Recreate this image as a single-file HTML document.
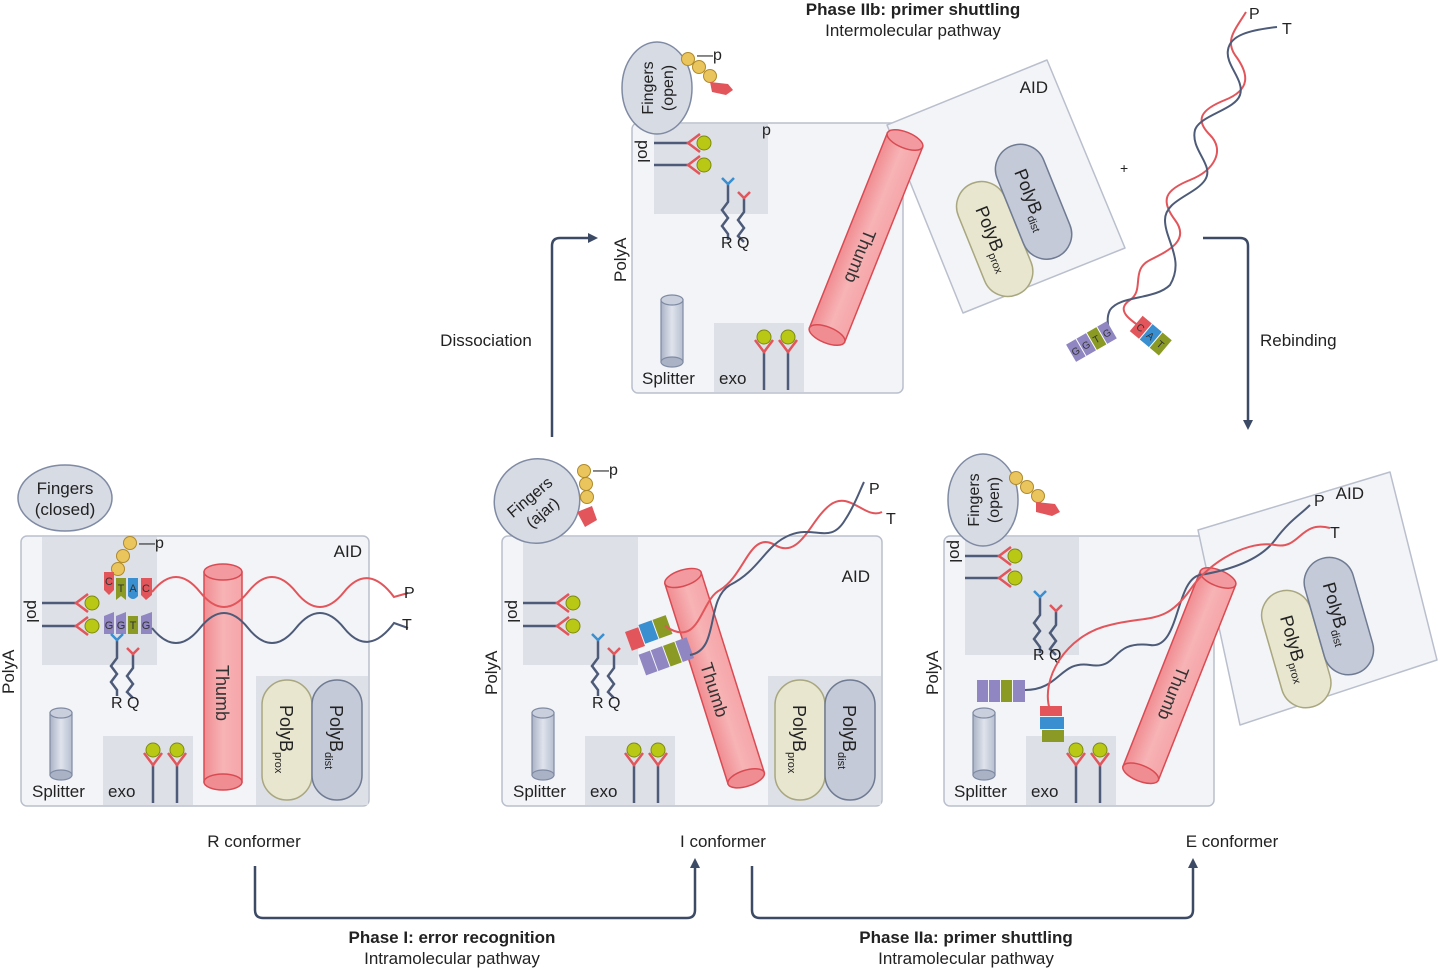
<!DOCTYPE html>
<html><head><meta charset="utf-8"><style>
body{margin:0;background:#fff}
svg{display:block;font-family:"Liberation Sans",sans-serif}
</style></head><body>
<svg width="1438" height="968" viewBox="0 0 1438 968" xmlns="http://www.w3.org/2000/svg">
<defs>
<linearGradient id="thg" x1="0" x2="1"><stop offset="0" stop-color="#f08d92"/><stop offset="0.5" stop-color="#f7b3b5"/><stop offset="1" stop-color="#f6a5a8"/></linearGradient>
<linearGradient id="spg" x1="0" x2="1"><stop offset="0" stop-color="#aab3c6"/><stop offset="0.5" stop-color="#dfe3ec"/><stop offset="1" stop-color="#b6bfd0"/></linearGradient>
<g id="thumb">
<rect x="-19" y="0" width="38" height="210" fill="url(#thg)" stroke="#d94b53" stroke-width="1.5"/>
<ellipse cx="0" cy="210" rx="19" ry="8" fill="#f08d92" stroke="#d94b53" stroke-width="1.5"/>
<ellipse cx="0" cy="0" rx="19" ry="8" fill="#f29aa0" stroke="#d94b53" stroke-width="1.5"/>
</g>
<g id="split">
<rect x="0" y="0" width="22" height="62" fill="url(#spg)" stroke="#7f8aa3" stroke-width="1.2"/>
<ellipse cx="11" cy="62" rx="11" ry="5" fill="#aab3c6" stroke="#7f8aa3" stroke-width="1.2"/>
<ellipse cx="11" cy="0" rx="11" ry="5" fill="#c9cfdc" stroke="#7f8aa3" stroke-width="1.2"/>
</g>
<g id="pol">
<line x1="0" y1="0" x2="34" y2="0" stroke="#4d5b78" stroke-width="2.5"/>
<path d="M46 -9 L34 0 L46 9" fill="none" stroke="#e2555b" stroke-width="2.5"/>
<circle cx="50" cy="0" r="7" fill="#b8c814" stroke="#7d8a10"/>
</g>
<g id="exo">
<line x1="0" y1="0" x2="0" y2="-38" stroke="#4d5b78" stroke-width="2.5"/>
<path d="M-9 -50 L0 -38 L9 -50" fill="none" stroke="#e2555b" stroke-width="2.5"/>
<circle cx="0" cy="-53" r="7" fill="#b8c814" stroke="#7d8a10"/>
</g>
<g id="rq">
<path d="M0 0 l0 18 l-6 8 l6 8 l-6 8 l6 8 l0 6" fill="none" stroke="#4d5b78" stroke-width="2.5"/>
<path d="M-6 -6 L0 0 L6 -6" fill="none" stroke="#3a8fd0" stroke-width="2.5"/>
<path d="M16 14 l0 14 l-6 8 l6 8 l-6 8 l6 6" fill="none" stroke="#4d5b78" stroke-width="2.5"/>
<path d="M10 8 L16 14 L22 8" fill="none" stroke="#e2555b" stroke-width="2.5"/>
</g>
<g id="gold">
<circle cx="0" cy="0" r="6.5" fill="#eac45c" stroke="#b08a2a"/>
</g>
</defs>

<text x="913" y="15" font-size="17" font-weight="bold" text-anchor="middle" fill="#222">Phase IIb: primer shuttling</text>
<text x="913" y="36" font-size="17" text-anchor="middle" fill="#222">Intermolecular pathway</text>

<!-- LEFT -->
<rect x="21" y="536" width="348" height="270" rx="6" fill="#f3f4f8" stroke="#b9bfcc" stroke-width="1.5"/>
<rect x="42" y="537" width="115" height="128" fill="#dde0e7"/>
<rect x="103" y="736" width="90" height="69" fill="#dde0e7"/>
<rect x="256" y="676" width="112" height="129" fill="#dde0e7"/>
<ellipse cx="65" cy="498" rx="47" ry="33" fill="#d7dbe4" stroke="#7f8aa3" stroke-width="1.5"/>
<text x="65" y="494" font-size="17" text-anchor="middle" fill="#222">Fingers</text>
<text x="65" y="515" font-size="17" text-anchor="middle" fill="#222">(closed)</text>
<text x="362" y="557" font-size="17" text-anchor="end" fill="#222">AID</text>
<text transform="translate(14,694) rotate(-90)" font-size="17" fill="#222">PolyA</text>
<text transform="translate(27,600) rotate(90)" font-size="17" fill="#222">pol</text>
<use href="#pol" x="42" y="603"/><use href="#pol" x="42" y="626"/>
<use href="#gold" x="118" y="569"/><use href="#gold" x="123" y="556"/><use href="#gold" x="130" y="543"/>
<text x="139" y="548" font-size="16" fill="#222">—p</text>
<g font-size="11" text-anchor="middle" fill="#333">
<polygon points="104,572 114,572 114,590 109,595 104,590" fill="#e2555b"/><text x="109" y="585">C</text>
<polygon points="116,578 126,578 126,600 121,596 116,600" fill="#8a9a24"/><text x="121" y="592">T</text>
<path d="M128 578 h10 v18 q-5 6 -10 0z" fill="#3a8fd0"/><text x="133" y="592">A</text>
<polygon points="141,578 152,578 152,595 146,600 141,595" fill="#e2555b"/><text x="146" y="592">C</text>
<polygon points="104,616 114,612 114,634 104,634" fill="#8f86c2"/><text x="109" y="629">G</text>
<polygon points="116,616 126,612 126,634 116,634" fill="#8f86c2"/><text x="121" y="629">G</text>
<polygon points="128,616 138,616 138,634 128,634" fill="#8a9a24"/><text x="133" y="629">T</text>
<polygon points="141,616 152,612 152,634 141,634" fill="#8f86c2"/><text x="146" y="629">G</text>
</g>
<use href="#rq" x="117" y="640"/>
<text x="111" y="708" font-size="16" fill="#222">R Q</text>
<use href="#thumb" transform="translate(223,572)"/>
<text transform="translate(216,665) rotate(90)" font-size="18" fill="#333">Thumb</text>
<path d="M152 592 q24 -30 48 0 t48 0 t48 0 t48 0 t50 5 l14 -4" fill="none" stroke="#e2555b" stroke-width="2"/>
<path d="M152 628 q24 30 48 0 t48 0 t48 0 t48 0 t50 -5 l14 5" fill="none" stroke="#4d5b78" stroke-width="2"/>
<text x="404" y="598" font-size="16" fill="#222">P</text>
<text x="402" y="630" font-size="16" fill="#222">T</text>
<use href="#split" x="50" y="713"/>
<text x="32" y="797" font-size="17" fill="#222">Splitter</text>
<text x="108" y="797" font-size="17" fill="#222">exo</text>
<use href="#exo" x="153" y="803"/><use href="#exo" x="177" y="803"/>
<rect x="262" y="680" width="50" height="120" rx="25" fill="#e8e6cf" stroke="#a9a77f" stroke-width="1.5"/>
<rect x="312" y="680" width="50" height="120" rx="25" fill="#c4cad8" stroke="#6f7b92" stroke-width="1.5"/>
<text transform="translate(280,705) rotate(90)" font-size="18" fill="#222">PolyB<tspan font-size="11" dy="5">prox</tspan></text>
<text transform="translate(330,705) rotate(90)" font-size="18" fill="#222">PolyB<tspan font-size="11" dy="5">dist</tspan></text>
<text x="254" y="847" font-size="17" text-anchor="middle" fill="#222">R conformer</text>

<!-- MIDDLE -->
<rect x="502" y="536" width="380" height="270" rx="6" fill="#f3f4f8" stroke="#b9bfcc" stroke-width="1.5"/>
<rect x="523" y="537" width="115" height="128" fill="#dde0e7"/>
<rect x="585" y="736" width="90" height="69" fill="#dde0e7"/>
<rect x="768" y="676" width="113" height="129" fill="#dde0e7"/>
<ellipse cx="537" cy="501" rx="43" ry="42" transform="rotate(-30 537 501)" fill="#d7dbe4" stroke="#7f8aa3" stroke-width="1.5"/>
<text transform="translate(537,506) rotate(-40)" font-size="16" text-anchor="middle" fill="#222"><tspan x="0" y="-6">Fingers</tspan><tspan x="0" y="14">(ajar)</tspan></text>
<use href="#gold" x="584" y="471"/><use href="#gold" x="586" y="484"/><use href="#gold" x="587" y="497"/>
<text x="593" y="475" font-size="16" fill="#222">—p</text>
<polygon points="577,512 592,506 597,520 585,527" fill="#e2555b"/>
<text x="870" y="582" font-size="17" text-anchor="end" fill="#222">AID</text>
<text transform="translate(497,695) rotate(-90)" font-size="17" fill="#222">PolyA</text>
<text transform="translate(508,600) rotate(90)" font-size="17" fill="#222">pol</text>
<use href="#pol" x="523" y="603"/><use href="#pol" x="523" y="626"/>
<use href="#rq" x="598" y="640"/>
<text x="592" y="708" font-size="16" fill="#222">R Q</text>
<use href="#thumb" transform="translate(683,578) rotate(-17.5)"/>
<text transform="translate(700,665) rotate(72.5)" font-size="18" fill="#333">Thumb</text>
<g transform="translate(625,632) rotate(-20)">
<rect x="0" y="0" width="14" height="20" fill="#e2555b"/><rect x="15" y="-2" width="14" height="20" fill="#3a8fd0"/><rect x="30" y="-2" width="14" height="20" fill="#8a9a24"/>
<rect x="5" y="26" width="12" height="22" fill="#8f86c2"/><rect x="18" y="26" width="12" height="22" fill="#8f86c2"/><rect x="31" y="26" width="12" height="22" fill="#8a9a24"/><rect x="44" y="26" width="12" height="22" fill="#8f86c2"/>
</g>
<path d="M665 626 C700 650 700 600 720 590 C745 575 750 530 775 545 C800 560 810 520 830 505 C850 490 865 520 882 512" fill="none" stroke="#e2555b" stroke-width="2"/>
<path d="M690 655 C720 650 705 600 730 585 C760 570 765 545 790 535 C815 525 830 545 845 520 C855 505 860 490 864 482" fill="none" stroke="#4d5b78" stroke-width="2"/>
<text x="869" y="494" font-size="16" fill="#222">P</text>
<text x="886" y="524" font-size="16" fill="#222">T</text>
<use href="#split" x="532" y="713"/>
<text x="513" y="797" font-size="17" fill="#222">Splitter</text>
<text x="590" y="797" font-size="17" fill="#222">exo</text>
<use href="#exo" x="634" y="803"/><use href="#exo" x="658" y="803"/>
<rect x="775" y="680" width="50" height="120" rx="25" fill="#e8e6cf" stroke="#a9a77f" stroke-width="1.5"/>
<rect x="825" y="680" width="50" height="120" rx="25" fill="#c4cad8" stroke="#6f7b92" stroke-width="1.5"/>
<text transform="translate(793,705) rotate(90)" font-size="18" fill="#222">PolyB<tspan font-size="11" dy="5">prox</tspan></text>
<text transform="translate(843,705) rotate(90)" font-size="18" fill="#222">PolyB<tspan font-size="11" dy="5">dist</tspan></text>
<text x="723" y="847" font-size="17" text-anchor="middle" fill="#222">I conformer</text>

<!-- RIGHT -->
<rect x="944" y="536" width="270" height="270" rx="6" fill="#f3f4f8" stroke="#b9bfcc" stroke-width="1.5"/>
<rect x="965" y="537" width="114" height="118" fill="#dde0e7"/>
<rect x="1026" y="736" width="90" height="69" fill="#dde0e7"/>
<polygon points="1198,530 1390,472 1437,660 1240,725" fill="#f3f4f8" stroke="#b9bfcc" stroke-width="1.5" stroke-linejoin="round"/>
<text x="1364" y="499" font-size="17" text-anchor="end" fill="#222">AID</text>
<ellipse cx="983" cy="500" rx="35" ry="46" fill="#d7dbe4" stroke="#7f8aa3" stroke-width="1.5"/>
<text transform="translate(983,500) rotate(-90)" font-size="16" text-anchor="middle" fill="#222"><tspan x="0" y="-4">Fingers</tspan><tspan x="0" y="16">(open)</tspan></text>
<use href="#gold" x="1016" y="478"/><use href="#gold" x="1027" y="487"/><use href="#gold" x="1038" y="496"/>
<polygon points="1036,502 1055,504 1060,512 1052,516 1036,512" fill="#e2555b"/>
<text transform="translate(950,540) rotate(90)" font-size="17" fill="#222">pol</text>
<text transform="translate(938,695) rotate(-90)" font-size="17" fill="#222">PolyA</text>
<use href="#pol" x="965" y="556"/><use href="#pol" x="965" y="578"/>
<use href="#rq" x="1040" y="597"/>
<text x="1033" y="660" font-size="16" fill="#222">R Q</text>
<rect x="977" y="680" width="11" height="22" fill="#8f86c2"/><rect x="989" y="680" width="11" height="22" fill="#8f86c2"/><rect x="1001" y="680" width="11" height="22" fill="#8a9a24"/><rect x="1013" y="680" width="12" height="22" fill="#8f86c2"/>
<rect x="1040" y="706" width="22" height="10" fill="#e2555b"/><rect x="1040" y="717" width="24" height="12" fill="#3a8fd0"/><rect x="1042" y="730" width="22" height="12" fill="#8a9a24"/>
<g transform="rotate(-16 1328 640)">
<rect x="1270" y="580" width="50" height="120" rx="25" fill="#e8e6cf" stroke="#a9a77f" stroke-width="1.5"/>
<rect x="1320" y="560" width="50" height="120" rx="25" fill="#c4cad8" stroke="#6f7b92" stroke-width="1.5"/>
<text transform="translate(1288,605) rotate(90)" font-size="18" fill="#222">PolyB<tspan font-size="11" dy="5">prox</tspan></text>
<text transform="translate(1338,585) rotate(90)" font-size="18" fill="#222">PolyB<tspan font-size="11" dy="5">dist</tspan></text>
</g>
<use href="#thumb" transform="translate(1218,578) rotate(21.6)"/>
<text transform="translate(1178,665) rotate(111.6)" font-size="18" fill="#333">Thumb</text>
<path d="M1025 690 C1060 690 1060 660 1090 665 C1120 670 1110 640 1150 645 C1180 650 1175 580 1200 575 C1230 570 1260 560 1275 540 C1290 520 1300 515 1310 505" fill="none" stroke="#4d5b78" stroke-width="2"/>
<path d="M1050 710 C1040 680 1065 635 1110 625 C1150 615 1165 625 1190 590 C1210 560 1250 540 1275 545 C1300 550 1300 520 1330 528" fill="none" stroke="#e2555b" stroke-width="2"/>
<text x="1314" y="506" font-size="16" fill="#222">P</text>
<text x="1330" y="538" font-size="16" fill="#222">T</text>
<use href="#split" x="973" y="713"/>
<text x="954" y="797" font-size="17" fill="#222">Splitter</text>
<text x="1031" y="797" font-size="17" fill="#222">exo</text>
<use href="#exo" x="1076" y="803"/><use href="#exo" x="1100" y="803"/>
<text x="1232" y="847" font-size="17" text-anchor="middle" fill="#222">E conformer</text>

<!-- TOP -->
<rect x="632" y="123" width="271" height="270" rx="6" fill="#f3f4f8" stroke="#b9bfcc" stroke-width="1.5"/>
<rect x="654" y="124" width="114" height="90" fill="#dde0e7"/>
<rect x="714" y="323" width="90" height="69" fill="#dde0e7"/>
<polygon points="887,125 1047,60 1125,248 963,313" fill="#f3f4f8" stroke="#b9bfcc" stroke-width="1.5" stroke-linejoin="round"/>
<text x="1048" y="93" font-size="17" text-anchor="end" fill="#222">AID</text>
<ellipse cx="657" cy="88" rx="35" ry="46" fill="#d7dbe4" stroke="#7f8aa3" stroke-width="1.5"/>
<text transform="translate(657,88) rotate(-90)" font-size="16" text-anchor="middle" fill="#222"><tspan x="0" y="-4">Fingers</tspan><tspan x="0" y="16">(open)</tspan></text>
<use href="#gold" x="688" y="59"/><use href="#gold" x="699" y="67"/><use href="#gold" x="710" y="76"/>
<text x="697" y="60" font-size="16" fill="#222">—p</text>
<polygon points="710,82 728,84 733,90 726,95 712,92" fill="#e2555b"/>
<text x="762" y="135" font-size="16" fill="#222">p</text>
<text transform="translate(638,140) rotate(90)" font-size="17" fill="#222">pol</text>
<text transform="translate(626,282) rotate(-90)" font-size="17" fill="#222">PolyA</text>
<use href="#pol" x="654" y="143"/><use href="#pol" x="654" y="165"/>
<use href="#rq" x="728" y="184"/>
<text x="721" y="248" font-size="16" fill="#222">R Q</text>
<use href="#thumb" transform="translate(905,140) rotate(21.8)"/>
<text transform="translate(865,228) rotate(111.8)" font-size="18" fill="#333">Thumb</text>
<g transform="rotate(-22 1016 225)">
<rect x="966" y="170" width="50" height="120" rx="25" fill="#e8e6cf" stroke="#a9a77f" stroke-width="1.5"/>
<rect x="1016" y="150" width="50" height="120" rx="25" fill="#c4cad8" stroke="#6f7b92" stroke-width="1.5"/>
<text transform="translate(984,195) rotate(90)" font-size="18" fill="#222">PolyB<tspan font-size="11" dy="5">prox</tspan></text>
<text transform="translate(1034,175) rotate(90)" font-size="18" fill="#222">PolyB<tspan font-size="11" dy="5">dist</tspan></text>
</g>
<use href="#split" x="661" y="300"/>
<text x="642" y="384" font-size="17" fill="#222">Splitter</text>
<text x="719" y="384" font-size="17" fill="#222">exo</text>
<use href="#exo" x="764" y="390"/><use href="#exo" x="788" y="390"/>
<text x="1120" y="173" font-size="14" fill="#222">+</text>
<path d="M1246 12 C1235 30 1225 40 1235 55 C1250 75 1250 90 1225 100 C1200 110 1195 120 1210 135 C1225 150 1215 170 1190 180 C1165 190 1160 200 1175 220 C1190 240 1170 250 1150 260 C1130 270 1145 290 1130 300 C1115 310 1130 320 1142 328" fill="none" stroke="#e2555b" stroke-width="2"/>
<path d="M1277 27 C1250 30 1230 35 1228 50 C1225 65 1245 80 1240 95 C1235 110 1200 115 1195 130 C1190 150 1215 165 1205 180 C1195 195 1165 200 1165 220 C1165 240 1185 260 1170 285 C1155 300 1120 295 1110 310 C1105 320 1110 328 1108 332" fill="none" stroke="#4d5b78" stroke-width="2"/>
<text x="1249" y="19" font-size="16" fill="#222">P</text>
<text x="1282" y="34" font-size="16" fill="#222">T</text>
<g transform="rotate(-30 1090 340)" font-size="10" text-anchor="middle" fill="#333">
<rect x="1067" y="332" width="11" height="20" fill="#8f86c2"/><text x="1072" y="346">G</text>
<rect x="1079" y="332" width="11" height="20" fill="#8f86c2"/><text x="1084" y="346">G</text>
<rect x="1091" y="332" width="11" height="20" fill="#8a9a24"/><text x="1096" y="346">T</text>
<rect x="1103" y="332" width="11" height="20" fill="#8f86c2"/><text x="1108" y="346">G</text>
</g>
<g transform="rotate(40 1150 335)" font-size="10" text-anchor="middle" fill="#333">
<rect x="1132" y="325" width="12" height="20" fill="#e2555b"/><text x="1138" y="339">C</text>
<rect x="1145" y="325" width="12" height="20" fill="#3a8fd0"/><text x="1151" y="339">A</text>
<rect x="1158" y="325" width="12" height="20" fill="#8a9a24"/><text x="1164" y="339">T</text>
</g>

<!-- Arrows -->
<g fill="none" stroke="#3c4a66" stroke-width="2.5">
<path d="M552 437 V246 q0 -8 8 -8 H594"/>
<path d="M1203 238 H1240 q8 0 8 8 V424"/>
<path d="M255 866 V910 q0 8 8 8 H687 q8 0 8 -8 V866"/>
<path d="M752 866 V910 q0 8 8 8 H1185 q8 0 8 -8 V866"/>
</g>
<g fill="#3c4a66">
<polygon points="598,238 588,233 588,243"/>
<polygon points="1248,430 1243,420 1253,420"/>
<polygon points="695,858 690,868 700,868"/>
<polygon points="1193,858 1188,868 1198,868"/>
</g>
<text x="486" y="346" font-size="17" text-anchor="middle" fill="#222">Dissociation</text>
<text x="1260" y="346" font-size="17" fill="#222">Rebinding</text>
<text x="452" y="943" font-size="17" font-weight="bold" text-anchor="middle" fill="#222">Phase I: error recognition</text>
<text x="452" y="964" font-size="17" text-anchor="middle" fill="#222">Intramolecular pathway</text>
<text x="966" y="943" font-size="17" font-weight="bold" text-anchor="middle" fill="#222">Phase IIa: primer shuttling</text>
<text x="966" y="964" font-size="17" text-anchor="middle" fill="#222">Intramolecular pathway</text>
</svg>
</body></html>
